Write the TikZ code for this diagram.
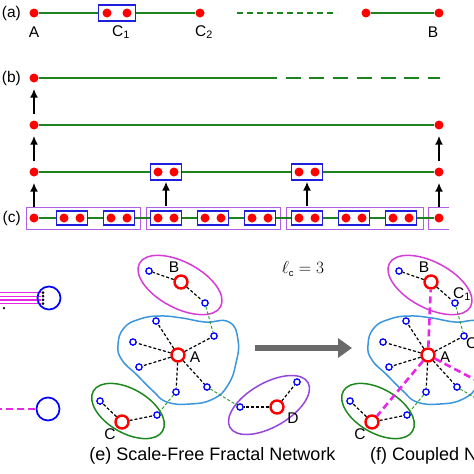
\documentclass[tikz,border=0pt]{standalone}
\usepackage{fontspec}
\setmainfont{Liberation Sans}
\usepackage{tikz}
\usetikzlibrary{positioning,arrows.meta}

\definecolor{lgreen}{RGB}{30,130,30}
\definecolor{pblue}{RGB}{30,30,220}
\definecolor{gpurple}{RGB}{175,95,230}
\definecolor{emag}{RGB}{214,60,214}
\definecolor{eblue}{RGB}{60,150,220}
\definecolor{egreen}{RGB}{30,135,30}
\definecolor{epurple}{RGB}{150,70,220}
\definecolor{bgreen}{RGB}{50,160,50}
\definecolor{cmag}{RGB}{230,40,230}
\definecolor{agray}{RGB}{105,105,105}

\begin{document}
\begin{tikzpicture}[x=1pt, y=-1pt,
  rdot/.style={circle, fill=red, inner sep=0pt, minimum size=9pt},
  lnk/.style={draw=lgreen, line width=2.2pt},
  pairbox/.style={draw=pblue, line width=1.2pt, inner sep=0pt, minimum width=31pt, minimum height=14pt},
  grpbox/.style={draw=gpurple, line width=1pt, inner sep=0pt, minimum height=22pt},
  up/.style={-{Latex[length=9pt,width=8pt]}, line width=2.1pt, shorten <=6pt, shorten >=6pt},
  hub/.style={circle, draw=red, fill=white, line width=2.4pt, inner sep=0pt, minimum size=13pt},
  leaf/.style={circle, draw=blue, fill=white, line width=1.3pt, inner sep=0pt, minimum size=6.3pt},
  tie/.style={line width=1.2pt, dash pattern=on 3pt off 2pt},
  bridge/.style={draw=bgreen, line width=1pt, dash pattern=on 3pt off 2pt},
  couple/.style={draw=cmag, line width=2.6pt, dash pattern=on 7pt off 4pt},
  lbl/.style={font=\fontsize{15.5}{17}\selectfont, inner sep=0pt},
  captxt/.style={font=\fontsize{18}{21}\selectfont, inner sep=0pt},
  bdot/.style={circle, fill=black, inner sep=0pt, minimum size=3pt}]
\useasboundingbox (0,0) rectangle (474,474);

% (a) row
\node[lbl, anchor=east] (ta) at (21,13) {(a)};
\node[rdot] (a1) at (34,13) {};
\node[pairbox, minimum width=37pt, minimum height=16pt] (a23) at (117,13) {};
\node[rdot] (a2) at (107,13) {};
\node[rdot] (a3) at (127,13) {};
\node[rdot] (a4) at (200,13) {};
\node[rdot] (a5) at (366,13) {};
\node[rdot] (a6) at (439,13) {};
\coordinate (a7) at (237,13);
\coordinate (a8) at (337,13);
\draw[lnk] (a1) -- (a23);
\draw[lnk] (a23) -- (a4);
\draw[lnk, dash pattern=on 6pt off 4pt] (a7) -- (a8);
\draw[lnk] (a5) -- (a6);
\node[lbl] (la1) at (34,32) {A};
\node[lbl] (la23) at (121,32) {C\textsubscript{1}};
\node[lbl] (la4) at (204,32) {C\textsubscript{2}};
\node[lbl] (la6) at (433,32) {B};

% (b) row and the rows below
\node[lbl, anchor=east] (tb) at (21,78) {(b)};
\node[rdot] (b0) at (34,78) {};
\coordinate (b1) at (277,78);
\coordinate (b2) at (440,78);
\draw[lnk] (b0) -- (b1);
\draw[lnk, dash pattern=on 15pt off 8.7pt, dash phase=15pt] (b1) -- (b2);

\node[rdot] (m0) at (34,125) {};
\node[rdot] (m9) at (439,125) {};
\draw[lnk] (m0) -- (m9);

\node[rdot] (n0) at (34,172) {};
\node[pairbox, minimum height=16pt] (n3) at (166,172) {};
\node[rdot] at (158,172) {};
\node[rdot] at (174,172) {};
\node[pairbox, minimum height=16pt] (n6) at (307,172) {};
\node[rdot] at (299,172) {};
\node[rdot] at (315,172) {};
\node[rdot] (n9) at (439,172) {};
\draw[lnk] (n0) -- (n3);
\draw[lnk] (n3) -- (n6);
\draw[lnk] (n6) -- (n9);

% (c) row
\node[lbl, anchor=east] (tc) at (21,218) {(c)};
\node[grpbox, minimum width=114pt] (g1) at (83,218) {};
\node[grpbox, minimum width=134pt] (g2) at (213,218) {};
\node[grpbox, minimum width=137pt] (g3) at (354.5,218) {};
\draw[gpurple, line width=1pt] (449,207) -- (428,207) -- (428,229) -- (449,229);
\node[rdot] (c0) at (34,218) {};
\foreach \k in {1,...,8}{
  \node[pairbox] (c\k) at (25+47*\k,218) {};
  \node[rdot] at (17+47*\k,218) {};
  \node[rdot] at (33+47*\k,218) {};
}
\node[rdot] (c9) at (439,218) {};
\draw[lnk] (c0) -- (c1);
\foreach \k [evaluate=\k as \j using int(\k+1)] in {1,...,7}
  \draw[lnk] (c\k) -- (c\j);
\draw[lnk] (c8) -- (c9);

\draw[up] (m0) -- (b0);
\draw[up] (n0) -- (m0);
\draw[up] (c0) -- (n0);
\draw[up] (n9) -- (m9);
\draw[up] (c9) -- (n9);
\draw[up, shorten <=4pt, shorten >=1pt] (c3) -- (n3);
\draw[up, shorten <=4pt, shorten >=1pt] (c6) -- (n6);

% (d) cut at the left
\foreach \y [count=\i] in {292.5,296.2,299.9,303.6}{
  \coordinate (dl\i) at (-5,\y);
  \node[bdot] (dk\i) at (43,\y) {};
  \draw[cmag, line width=1.3pt] (dl\i) -- (dk\i);
}
\node[circle, draw=blue, line width=1.7pt, inner sep=0pt, minimum size=23pt] (dtop) at (49,298) {};
\node[bdot, minimum size=2.5pt] (dsp) at (4,308) {};
\coordinate (dl5) at (-5,409);
\node[circle, draw=blue, line width=1.7pt, inner sep=0pt, minimum size=23pt] (dbot) at (48,409) {};
\draw[couple] (dl5) -- (dbot);

% (e) and (f) networks
\foreach \s/\p in {0/e,250/f}{
\begin{scope}[xshift=\s]
  \draw[emag, line width=1.5pt, rotate around={-28:(180,285)}] (180,285) ellipse (46 and 23);
  \draw[egreen, line width=1.5pt, rotate around={-30:(128,411)}] (128,411) ellipse (40 and 22);
  \draw[eblue, line width=1.5pt] plot[smooth cycle, tension=0.8] coordinates {
    (118,345) (124,328) (140,319) (160,316) (182,318) (205,322) (229,322)
    (238,340) (236,363) (228,385) (213,399) (190,404) (167,402) (153,391)
    (137,375) (122,360)};
  \node[hub] (A\p) at (178,355) {};
  \node[leaf] (A1\p) at (156,321) {};
  \node[leaf] (A2\p) at (133,342) {};
  \node[leaf] (A3\p) at (139,367) {};
  \node[leaf] (A4\p) at (176,392) {};
  \node[leaf] (A5\p) at (207,387) {};
  \node[leaf] (A6\p) at (214,336) {};
  \node[hub] (B\p) at (181,282) {};
  \node[leaf] (B1\p) at (149,271) {};
  \node[leaf] (B2\p) at (205,303) {};
  \node[hub] (C\p) at (122,422) {};
  \node[leaf] (C1\p) at (100,401) {};
  \node[leaf] (C2\p) at (157,415) {};
  \foreach \i in {1,...,6}
    \draw[tie] (A\p) -- (A\i\p);
  \draw[tie] (B\p) -- (B1\p);
  \draw[tie] (B\p) -- (B2\p);
  \draw[tie] (C\p) -- (C1\p);
  \draw[tie] (C\p) -- (C2\p);
  \draw[bridge] (B2\p) -- (A6\p);
  \draw[bridge] (A4\p) -- (C2\p);
  \node[lbl] (tA\p) at (195,357) {A};
  \node[lbl] (tB\p) at (174,267) {B};
  \node[lbl] (tC\p) at (110,434) {C};
\end{scope}
}

% D group of (e)
\draw[epurple, line width=1.5pt, rotate around={30:(269,405)}] (269,405) ellipse (45 and 22);
\node[hub] (De) at (277,407) {};
\node[leaf] (D1e) at (240,407) {};
\node[leaf] (D2e) at (297,382) {};
\draw[tie] (De) -- (D1e);
\draw[tie] (De) -- (D2e);
\draw[bridge] (A5e) -- (D1e);
\node[lbl] (tDe) at (293,418) {D};

% coupling in (f)
\coordinate (D1f) at (490,407);
\coordinate (Df) at (527,407);
\draw[bridge] (A5f) -- (D1f);
\draw[couple] (Af) -- (Bf);
\draw[couple] (Af) -- (Cf);
\draw[couple] (Af) -- (Df);
\node[lbl] (tC1f) at (462,294) {C\textsubscript{1}};
\node[lbl, anchor=west] (tC2f) at (466,344) {C\textsubscript{2}};

% arrow and captions
\node (lc) at (303,269) {\fontsize{19}{22}\selectfont$\ell_{\scriptscriptstyle\mathrm{c}} = 3$};
\coordinate (g0) at (255,348);
\coordinate (g1) at (352,348);
\draw[agray, line width=6.5pt, -{Triangle[length=14pt,width=19pt]}] (g0) -- (g1);
\node[captxt] (cape) at (212.5,456) {(e) Scale-Free Fractal Network};
\node[captxt, anchor=west] (capf) at (370,456) {(f) Coupled Network};
\end{tikzpicture}
\end{document}
